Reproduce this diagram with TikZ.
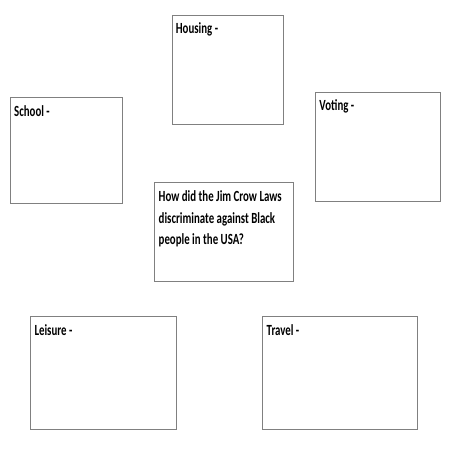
\documentclass[tikz,border=0pt]{standalone}
\usepackage{fontspec}
\setmainfont{Carlito}[FakeStretch=0.70]
\usetikzlibrary{calc}
\tikzset{box/.style={draw=black!50, line width=0.8pt, inner sep=0pt, anchor=north west}}
\tikzset{boxtext/.style={anchor=base west, inner sep=0pt, align=left,
  font=\bfseries\fontsize{15.5}{21.7}\selectfont}}

\begin{document}
\begin{tikzpicture}
[x=1pt, y=-1pt]
\useasboundingbox (0,0) rectangle (453,453);
\node (housing) at (171.7,15.3)[box, minimum width=111pt, minimum height=108.4pt]{};
\node (housingtext) at ($(housing.north west)+(4,18.3)$)[boxtext]{Housing -};
\node (school) at (9.7,97.3)[box, minimum width=112.6pt, minimum height=106pt]{};
\node (schooltext) at ($(school.north west)+(4.3,18.7)$)[boxtext]{School -};
\node (voting) at (314.7,91.7)[box, minimum width=125pt, minimum height=109pt]{};
\node (votingtext) at ($(voting.north west)+(4.5,18.3)$)[boxtext]{Voting -};
\node (question) at (154,182.3)[box, minimum width=139.3pt, minimum height=99pt]{};
% base of a multi-line node is its last line
\node (questiontext) at ($(question.north west)+(4.5,62.4)$)[boxtext]{How did the Jim Crow Laws\\discriminate against Black\\people in the USA?};
\node (leisure) at (30,316)[box, minimum width=146pt, minimum height=112.7pt]{};
\node (leisuretext) at ($(leisure.north west)+(4.3,19)$)[boxtext]{Leisure -};
\node (travel) at (262,316)[box, minimum width=154.7pt, minimum height=112.7pt]{};
\node (traveltext) at ($(travel.north west)+(4.5,19)$)[boxtext]{Travel -};
\end{tikzpicture}
\end{document}
